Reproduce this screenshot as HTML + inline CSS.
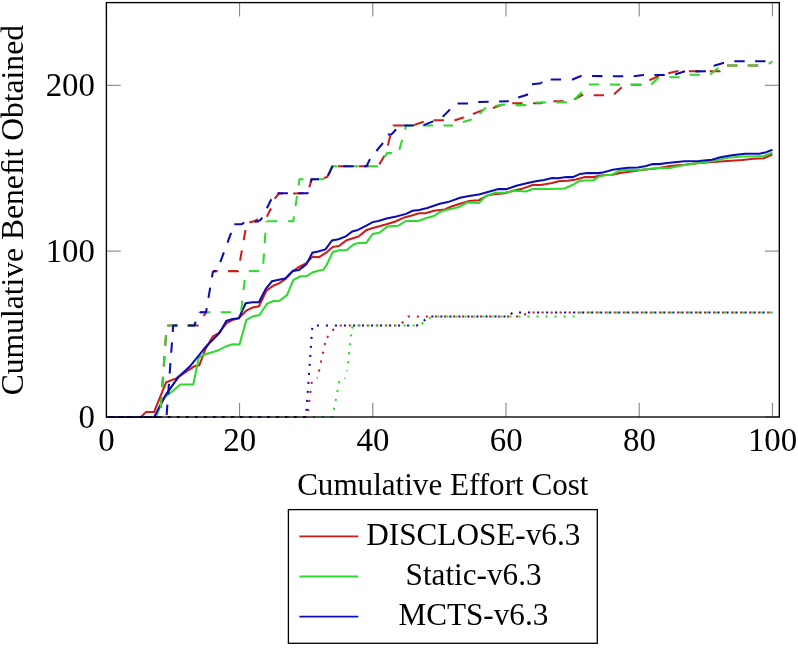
<!DOCTYPE html>
<html><head><meta charset="utf-8"><style>
html,body{margin:0;padding:0;background:#fff;width:798px;height:648px;overflow:hidden}
svg{position:absolute;left:0;top:0}
text{font-family:"Liberation Serif",serif;fill:#000}
</style></head><body>
<svg width="798" height="648" viewBox="0 0 798 648" style="will-change:transform">
<!-- ticks -->
<g stroke="#7a7a7a" stroke-width="1" fill="none">
<path d="M106.4 417V402.8M239.6 417V402.8M372.8 417V402.8M506 417V402.8M639.2 417V402.8M772.4 417V402.8"/>
<path d="M106.4 2.6V16.4M239.6 2.6V16.4M372.8 2.6V16.4M506 2.6V16.4M639.2 2.6V16.4M772.4 2.6V16.4"/>
<path d="M106.4 417H120.8M106.4 251.1H120.8M106.4 85.3H120.8"/>
<path d="M779.3 417H764.9M779.3 251.1H764.9M779.3 85.3H764.9"/>
</g>
<g font-size="32.9" text-anchor="middle">
<text x="106.6" y="450.9">0</text>
<text x="239.8" y="450.9">20</text>
<text x="373" y="450.9">40</text>
<text x="506.2" y="450.9">60</text>
<text x="639.4" y="450.9">80</text>
<text x="772.6" y="450.9">100</text>
</g>
<g font-size="32.9" text-anchor="end">
<text x="95" y="428.4">0</text>
<text x="95" y="262.3">100</text>
<text x="95" y="96">200</text>
</g>
<text x="442.8" y="494.5" font-size="31.1" text-anchor="middle">Cumulative Effort Cost</text>
<text transform="translate(22.9,210.2) rotate(-90)" x="0" y="0" font-size="31.6" text-anchor="middle">Cumulative Bene&#xFB01;t Obtained</text>
<!-- DATA -->
<g id="data" fill="none" stroke-width="2.05" stroke-linejoin="miter">
<path d="M106.4 417.0 L141.0 417.0 L146.1 411.9 L154.1 411.9 L166.1 382.4 L176.2 378.4 L188.2 370.3 L194.3 366.3 L199.3 365.4 L205.5 349.0 L212.8 336.5 L218.6 333.1 L227.0 322.7 L232.5 320.1 L238.8 318.2 L246.3 310.7 L252.6 307.6 L258.9 306.3 L266.4 290.7 L273.3 285.7 L279.5 283.2 L285.8 278.8 L292.7 271.3 L299.0 267.0 L306.0 263.5 L312.4 256.8 L319.0 257.1 L326.3 252.7 L332.8 247.0 L339.3 245.9 L346.6 240.2 L352.3 238.4 L358.9 236.4 L366.2 230.2 L371.9 228.3 L378.4 226.6 L386.5 224.2 L394.7 221.8 L404.5 217.4 L411.0 215.7 L419.1 213.3 L425.6 213.3 L433.8 210.8 L438.1 210.3 L444.7 209.4 L452.0 206.2 L460.1 203.7 L469.1 201.0 L478.9 200.2 L487.0 195.6 L493.5 194.3 L504.9 193.2 L513.1 190.7 L521.2 189.1 L532.6 185.0 L540.7 185.0 L552.1 183.1 L559.8 181.0 L567.9 180.7 L576.1 179.6 L585.0 177.1 L594.0 177.1 L600.5 175.5 L612.7 174.7 L620.0 173.1 L631.4 171.4 L641.2 170.1 L655.9 168.5 L670.0 166.0 L684.4 164.8 L698.8 163.1 L713.2 162.1 L727.6 160.9 L742.0 159.9 L753.6 158.8 L763.7 158.3 L772.4 154.5" stroke="#cc1c1c"/>
<path d="M106.4 417.0 L156.1 417.0 L163.1 398.4 L172.2 391.4 L180.2 384.4 L193.3 384.4 L198.8 357.5 L203.9 354.7 L217.8 350.6 L227.0 345.9 L232.6 344.3 L239.5 344.5 L246.3 320.1 L252.6 316.4 L259.5 315.1 L267.0 303.8 L273.3 301.1 L279.5 300.7 L287.0 295.1 L293.3 280.0 L300.2 276.3 L306.5 276.3 L312.4 272.4 L319.0 270.5 L323.0 270.0 L326.3 265.7 L332.8 251.9 L339.3 250.3 L346.6 250.3 L353.2 244.6 L358.9 242.9 L366.2 242.9 L372.7 234.0 L379.2 232.7 L387.4 226.6 L398.0 225.8 L406.1 220.9 L418.3 220.9 L426.4 218.0 L433.8 216.1 L440.0 212.0 L446.3 209.9 L459.3 207.0 L467.5 202.4 L478.9 202.9 L485.4 196.4 L495.1 192.7 L504.9 192.7 L514.7 190.7 L526.1 191.5 L532.6 189.1 L550.0 188.9 L564.7 188.5 L572.8 184.8 L579.3 181.0 L585.8 180.4 L593.2 180.4 L598.9 176.6 L605.4 175.0 L611.9 175.0 L618.4 170.9 L626.5 170.1 L637.9 170.1 L647.7 169.0 L660.7 167.7 L670.0 167.9 L684.4 165.0 L698.8 163.1 L713.2 160.9 L727.6 157.8 L742.0 156.6 L756.5 156.3 L763.7 155.9 L772.4 152.8" stroke="#30d830"/>
<path d="M106.4 417.0 L154.1 417.0 L166.1 394.4 L178.2 377.3 L190.0 366.3 L206.3 346.2 L219.6 333.0 L226.3 320.8 L232.5 319.1 L238.8 318.2 L245.7 303.2 L252.6 302.3 L258.9 302.3 L265.8 288.8 L272.0 281.3 L278.9 279.8 L285.2 278.5 L292.7 271.0 L299.0 270.0 L306.3 264.4 L312.4 252.7 L318.1 251.6 L325.5 249.4 L332.0 240.5 L338.5 239.2 L345.8 236.4 L352.3 231.5 L358.0 229.9 L365.4 226.2 L372.7 222.1 L378.4 220.9 L386.5 218.5 L396.3 216.4 L406.1 213.9 L412.6 210.8 L419.1 209.9 L427.3 207.9 L439.8 203.7 L447.9 202.1 L460.1 197.7 L469.1 196.1 L478.9 194.5 L487.0 192.3 L498.4 189.1 L506.5 189.1 L516.3 185.8 L527.7 182.9 L535.9 181.3 L544.0 180.1 L552.1 178.0 L558.1 178.3 L566.3 177.1 L572.8 177.1 L580.1 173.9 L587.5 173.1 L598.9 173.1 L603.7 172.2 L612.7 169.8 L621.7 168.5 L628.2 167.7 L637.9 167.4 L646.1 166.1 L652.6 164.1 L659.1 164.1 L667.3 163.1 L684.4 161.2 L698.8 160.9 L711.8 159.8 L720.4 157.3 L732.0 155.2 L744.9 153.7 L759.3 153.7 L765.1 152.6 L772.4 149.8" stroke="#0c0cb4"/>
<path d="M106.4 417.0 L160.0 417.0 L166.7 325.5 L197.8 325.5 L206.0 312.2 L208.0 312.2" stroke="#cc1c1c" stroke-dasharray="10.4 10.4" stroke-dashoffset="20.40"/>
<path d="M213.0 271.1 L238.2 271.1 L245.5 230.0" stroke="#cc1c1c" stroke-dasharray="10.4 10.4" stroke-dashoffset="5.71"/>
<path d="M245.5 230.0 L247.0 223.3 L254.0 221.2" stroke="#cc1c1c" stroke-dasharray="10.4 10.4" stroke-dashoffset="11.45"/>
<path d="M254.0 221.2 L262.4 217.4" stroke="#cc1c1c" stroke-dasharray="10.4 10.4" stroke-dashoffset="5.67"/>
<path d="M262.4 217.4 L266.5 217.4 L271.0 208.5" stroke="#cc1c1c" stroke-dasharray="10.4 10.4" stroke-dashoffset="15.97"/>
<path d="M271.0 208.5 L274.3 199.0 L279.0 193.5 L307.6 193.3 L311.6 179.3 L320.0 179.3 L327.2 177.0 L332.7 166.2 L378.2 166.2" stroke="#cc1c1c" stroke-dasharray="10.4 10.4" stroke-dashoffset="10.20"/>
<path d="M378.2 166.2 L385.4 154.1 L388.2 144.0 L390.2 136.0 L393.2 125.4 L413.0 125.4 L422.8 122.0 L425.0 120.3 L455.0 120.3" stroke="#cc1c1c" stroke-dasharray="10.4 10.4" stroke-dashoffset="18.65"/>
<path d="M455.0 120.3 L463.4 117.5" stroke="#cc1c1c" stroke-dasharray="10.4 10.4" stroke-dashoffset="20.80"/>
<path d="M463.4 117.5 L473.0 114.0" stroke="#cc1c1c" stroke-dasharray="10.4 10.4" stroke-dashoffset="9.66"/>
<path d="M473.0 114.0 L483.0 110.0 L493.0 108.0 L504.0 104.0 L508.0 103.2" stroke="#cc1c1c" stroke-dasharray="10.4 10.4" stroke-dashoffset="0.00"/>
<path d="M508.0 103.2 L541.0 103.2 L545.0 101.3 L563.0 101.3 L574.0 99.5 L582.0 95.0 L603.0 95.3 L613.0 95.3 L621.0 88.0 L624.5 84.7 L647.0 84.7 L650.0 80.0 L658.0 76.3 L668.0 73.2" stroke="#cc1c1c" stroke-dasharray="10.4 10.4" stroke-dashoffset="16.59"/>
<path d="M668.0 73.2 L677.0 71.2 L720.0 71.2 L723.0 65.4 L766.0 65.4" stroke="#cc1c1c" stroke-dasharray="10.4 10.4" stroke-dashoffset="20.49"/>
<path d="M106.4 417.0 L160.1 417.0 L166.7 325.5 L194.0 325.5 L199.5 312.2 L241.0 312.2" stroke="#30d830" stroke-dasharray="10.4 10.4" stroke-dashoffset="20.37"/>
<path d="M241.0 312.2 L245.7 271.1" stroke="#30d830" stroke-dasharray="10.4 10.4" stroke-dashoffset="19.47"/>
<path d="M245.7 271.1 L262.8 271.1" stroke="#30d830" stroke-dasharray="10.4 10.4" stroke-dashoffset="17.74"/>
<path d="M262.8 271.1 L266.2 221.2" stroke="#30d830" stroke-dasharray="10.4 10.4" stroke-dashoffset="13.42"/>
<path d="M266.2 221.2 L293.3 221.2 L299.5 179.2 L325.0 179.3 L332.0 166.2 L378.2 166.2" stroke="#30d830" stroke-dasharray="10.4 10.4" stroke-dashoffset="20.03"/>
<path d="M378.2 166.2 L387.2 153.1 L398.4 153.1" stroke="#30d830" stroke-dasharray="10.4 10.4" stroke-dashoffset="10.36"/>
<path d="M398.4 153.1 L406.2 125.4 L453.0 125.4" stroke="#30d830" stroke-dasharray="10.4 10.4" stroke-dashoffset="17.24"/>
<path d="M453.0 125.4 L463.0 122.0 L471.0 119.7" stroke="#30d830" stroke-dasharray="10.4 10.4" stroke-dashoffset="10.37"/>
<path d="M471.0 119.7 L476.0 117.0" stroke="#30d830" stroke-dasharray="10.4 10.4" stroke-dashoffset="9.55"/>
<path d="M476.0 117.0 L486.0 107.5" stroke="#30d830" stroke-dasharray="10.4 10.4" stroke-dashoffset="15.99"/>
<path d="M486.0 107.5 L495.0 106.0" stroke="#30d830" stroke-dasharray="10.4 10.4" stroke-dashoffset="10.64"/>
<path d="M495.0 106.0 L504.0 104.5 L510.0 105.1 L526.0 105.1 L530.0 102.5 L568.0 102.3" stroke="#30d830" stroke-dasharray="10.4 10.4" stroke-dashoffset="0.00"/>
<path d="M568.0 102.3 L574.0 100.0" stroke="#30d830" stroke-dasharray="10.4 10.4" stroke-dashoffset="12.84"/>
<path d="M574.0 100.0 L583.0 91.0 L587.0 84.5" stroke="#30d830" stroke-dasharray="10.4 10.4" stroke-dashoffset="20.01"/>
<path d="M587.0 84.5 L651.0 84.7 L658.0 78.0 L660.0 77.3 L680.0 77.3 L685.0 74.7 L710.0 74.7 L718.0 68.0 L721.0 65.4" stroke="#30d830" stroke-dasharray="10.4 10.4" stroke-dashoffset="18.88"/>
<path d="M721.0 65.4 L767.0 65.4" stroke="#30d830" stroke-dasharray="10.4 10.4" stroke-dashoffset="14.82"/>
<path d="M767.0 65.4 L772.4 61.2" stroke="#30d830" stroke-dasharray="10.4 10.4" stroke-dashoffset="18.61"/>
<path d="M106.4 417.0 L166.5 417.0 L173.2 325.5 L194.4 325.5 L199.5 312.2" stroke="#0c0cb4" stroke-dasharray="10.4 10.4" stroke-dashoffset="0.26"/>
<path d="M199.5 312.2 L206.0 312.2 L213.0 271.1" stroke="#0c0cb4" stroke-dasharray="10.4 10.4" stroke-dashoffset="20.51"/>
<path d="M213.0 271.1 L217.0 271.1 L234.3 224.3" stroke="#0c0cb4" stroke-dasharray="10.4 10.4" stroke-dashoffset="7.33"/>
<path d="M234.3 224.3 L241.5 224.3 L244.0 222.8 L259.3 221.2" stroke="#0c0cb4" stroke-dasharray="10.4 10.4" stroke-dashoffset="20.80"/>
<path d="M259.3 221.2 L262.4 217.4 L271.3 199.3" stroke="#0c0cb4" stroke-dasharray="10.4 10.4" stroke-dashoffset="5.72"/>
<path d="M271.3 199.3 L277.5 193.3" stroke="#0c0cb4" stroke-dasharray="10.4 10.4" stroke-dashoffset="11.61"/>
<path d="M277.5 193.3 L307.6 193.3 L311.6 179.3 L320.0 179.3 L327.2 177.0 L332.7 166.2 L366.5 166.2 L370.5 158.0 L382.2 144.0 L386.8 134.4 L391.3 134.4 L395.2 130.4 L397.0 125.4 L423.0 125.4" stroke="#0c0cb4" stroke-dasharray="10.4 10.4" stroke-dashoffset="0.00"/>
<path d="M423.0 125.4 L433.0 121.4 L442.6 116.9 L449.3 110.1 L453.0 103.4" stroke="#0c0cb4" stroke-dasharray="10.4 10.4" stroke-dashoffset="20.07"/>
<path d="M453.0 103.4 L467.4 103.4 L478.0 102.0 L508.8 101.3" stroke="#0c0cb4" stroke-dasharray="10.4 10.4" stroke-dashoffset="16.26"/>
<path d="M508.8 101.3 L512.0 99.5 L527.0 94.8 L531.0 84.4" stroke="#0c0cb4" stroke-dasharray="10.4 10.4" stroke-dashoffset="10.63"/>
<path d="M531.0 84.4 L541.4 83.2" stroke="#0c0cb4" stroke-dasharray="10.4 10.4" stroke-dashoffset="19.82"/>
<path d="M541.4 83.2 L543.0 79.4 L568.0 79.4" stroke="#0c0cb4" stroke-dasharray="10.4 10.4" stroke-dashoffset="8.96"/>
<path d="M568.0 79.4 L572.0 79.8 L580.8 76.0 L633.9 76.3 L643.3 75.0 L664.0 75.0 L675.2 74.4 L684.0 71.5 L712.0 71.2" stroke="#0c0cb4" stroke-dasharray="10.4 10.4" stroke-dashoffset="16.74"/>
<path d="M712.0 71.2 L714.1 65.7" stroke="#0c0cb4" stroke-dasharray="10.4 10.4" stroke-dashoffset="15.50"/>
<path d="M714.1 65.7 L723.1 62.9 L730.0 61.3 L772.4 61.3" stroke="#0c0cb4" stroke-dasharray="10.4 10.4" stroke-dashoffset="0.00"/>
<path d="M106.4 417.0 L307.3 417.0 L311.8 381.5" stroke="#cc1c1c" stroke-dasharray="2.08 6.94" stroke-dashoffset="0.34"/>
<path d="M311.8 381.5 L317.5 378.0" stroke="#cc1c1c" stroke-dasharray="2.08 6.94" stroke-dashoffset="2.96"/>
<path d="M317.5 378.0 L326.0 339.0" stroke="#cc1c1c" stroke-dasharray="2.08 6.94" stroke-dashoffset="2.29"/>
<path d="M326.0 339.0 L333.0 330.0 L337.5 325.4" stroke="#cc1c1c" stroke-dasharray="2.08 6.94" stroke-dashoffset="7.38"/>
<path d="M337.5 325.4 L400.0 325.4 L408.0 316.4 L523.5 316.4 L526.5 312.4" stroke="#cc1c1c" stroke-dasharray="2.08 6.94" stroke-dashoffset="6.81"/>
<path d="M526.5 312.4 L772.4 312.4" stroke="#cc1c1c" stroke-dasharray="2.08 6.94" stroke-dashoffset="2.95"/>
<path d="M106.4 417.0 L332.4 417.0 L339.5 380.7" stroke="#30d830" stroke-dasharray="2.08 6.94" stroke-dashoffset="1.13"/>
<path d="M339.5 380.7 L344.8 378.5" stroke="#30d830" stroke-dasharray="2.08 6.94" stroke-dashoffset="3.01"/>
<path d="M344.8 378.5 L347.3 370.6" stroke="#30d830" stroke-dasharray="2.08 6.94" stroke-dashoffset="1.22"/>
<path d="M347.3 370.6 L351.5 330.0" stroke="#30d830" stroke-dasharray="2.08 6.94" stroke-dashoffset="1.65"/>
<path d="M351.5 330.0 L353.0 325.4" stroke="#30d830" stroke-dasharray="2.08 6.94" stroke-dashoffset="7.29"/>
<path d="M353.0 325.4 L419.5 325.4" stroke="#30d830" stroke-dasharray="2.08 6.94" stroke-dashoffset="3.58"/>
<path d="M419.5 325.4 L432.0 316.4 L575.0 316.4" stroke="#30d830" stroke-dasharray="2.08 6.94" stroke-dashoffset="6.40"/>
<path d="M575.0 316.4 L578.0 312.4" stroke="#30d830" stroke-dasharray="2.08 6.94" stroke-dashoffset="2.74"/>
<path d="M578.0 312.4 L772.4 312.4" stroke="#30d830" stroke-dasharray="2.08 6.94" stroke-dashoffset="7.25"/>
<path d="M106.4 417.0 L306.0 417.0 L312.4 325.4 L417.0 325.4 L430.0 316.4 L509.5 316.4" stroke="#0c0cb4" stroke-dasharray="2.08 6.94" stroke-dashoffset="1.76"/>
<path d="M509.5 316.4 L512.5 312.4 L772.4 312.4" stroke="#0c0cb4" stroke-dasharray="2.08 6.94" stroke-dashoffset="6.52"/>
</g>
<!-- frame -->
<rect x="106.4" y="2.6" width="672.9" height="414.4" fill="none" stroke="#000" stroke-width="1.35"/>
<!-- legend -->
<rect x="288.4" y="509.6" width="308.9" height="133.7" fill="#fff" stroke="#000" stroke-width="1.3"/>
<g stroke-width="1.9">
<path d="M299.4 536.4H358.3" stroke="#cc1c1c"/>
<path d="M299.4 576.5H358.3" stroke="#30d830"/>
<path d="M299.4 616.6H358.3" stroke="#0c0cb4"/>
</g>
<g font-size="31.2" text-anchor="middle">
<text x="473.3" y="545">DISCLOSE-v6.3</text>
<text x="473.6" y="585.2">Static-v6.3</text>
<text x="473.4" y="625.3">MCTS-v6.3</text>
</g>
</svg>
</body></html>
